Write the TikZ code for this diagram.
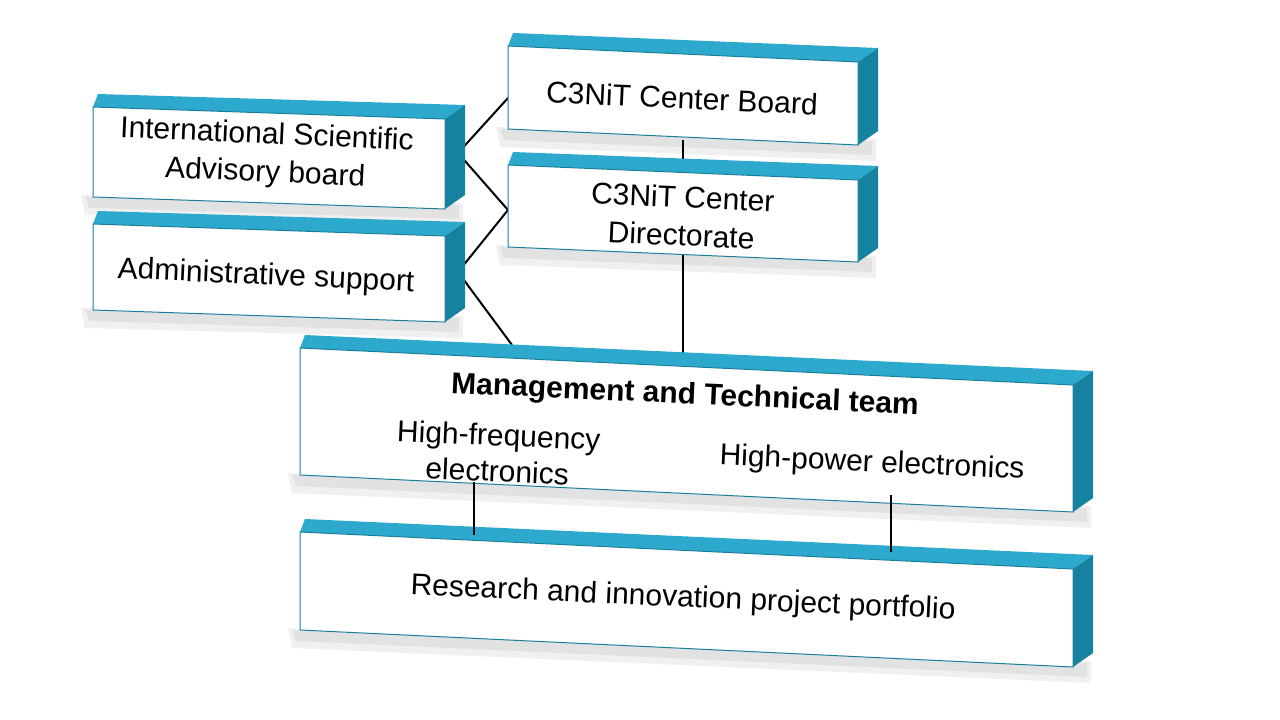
\documentclass[tikz,border=0pt]{standalone}
\usepackage{fontspec}
\setmainfont{Liberation Sans}
\definecolor{topc}{HTML}{2CA9CD}
\definecolor{sidec}{HTML}{15829F}
\definecolor{edgec}{HTML}{1A7F9A}
\tikzset{
  txt/.style={font=\fontsize{30}{36}\selectfont, align=center, rotate=-2.6, inner sep=0pt},
  conn/.style={draw=black, line width=2pt},
}
% #1 name, #2 x, #3 y, #4 w, #5 h, #6 drop
\newcommand\pbox[6]{%
  \fill[black, opacity=.06] (#2-12,#3+#5-2) -- (#2+#4+18,#3+#6+#5-6) -- (#2+#4+18,#3+#6+#5+16) -- (#2-8,#3+#5+18) -- cycle;
  \fill[black, opacity=.06] (#2-8,#3+#5) -- (#2+#4+14,#3+#6+#5-4) -- (#2+#4+14,#3+#6+#5+10) -- (#2-4,#3+#5+11) -- cycle;
  \fill[topc] (#2,#3) -- (#2+5,#3-13) -- (#2+#4+20,#3+#6-14) -- (#2+#4,#3+#6) -- cycle;
  \fill[sidec] (#2+#4,#3+#6) -- (#2+#4+20,#3+#6-14) -- (#2+#4+20,#3+#6+#5-14) -- (#2+#4,#3+#6+#5) -- cycle;
  \filldraw[fill=white, draw=edgec, line width=1pt] (#2,#3) -- (#2+#4,#3+#6) -- (#2+#4,#3+#6+#5) -- (#2,#3+#5) -- cycle;
  \coordinate (#1) at (#2+#4/2,#3+#6/2+#5/2);
}
\begin{document}
\begin{tikzpicture}[x=1pt,y=-1pt]
\useasboundingbox (0,0) rectangle (1280,720);
\coordinate (iR) at (458,153);
\coordinate (aR) at (458,272);
\coordinate (bL) at (508,98);
\coordinate (dL) at (508,210);
\coordinate (mT) at (512,345);
\draw[conn] (bL) -- (iR) -- (dL) -- (aR) -- (mT);
\coordinate (b1) at (683,140); \coordinate (d1) at (683,170);
\draw[conn] (b1) -- (d1);
\coordinate (d2) at (683,255); \coordinate (m1) at (683,355);
\draw[conn] (d2) -- (m1);
\coordinate (m2) at (474,482); \coordinate (r1) at (474,535);
\coordinate (m3) at (891,495); \coordinate (r2) at (891,552);

\pbox{board}{508}{46}{350}{83}{16}
\pbox{dir}{508}{165}{350}{82}{15}
\pbox{intl}{93}{107}{352}{90}{12}
\pbox{adm}{93}{224}{352}{86}{12}
\pbox{mgmt}{300}{348}{773}{127}{37}
\pbox{res}{300}{532}{773}{98}{37}
\draw[conn] (m2) -- (r1);
\draw[conn] (m3) -- (r2);

\node[txt] (tb) at (682,98) {C3NiT Center Board};
\node[txt, font=\fontsize{30}{38}\selectfont] (td) at (682,216) {C3NiT Center\\Directorate};
\node[txt, font=\fontsize{30}{38}\selectfont] (ti) at (266,155) {International Scientific\\Advisory board};
\node[txt] (ta) at (266,277) {Administrative support};
\node[txt, font=\bfseries\fontsize{30}{36}\selectfont] (tm) at (685,396) {Management and Technical team};
\node[txt, font=\fontsize{30}{36}\selectfont] (thf) at (498,453) {High-frequency\\electronics};
\node[txt] (thp) at (872,464) {High-power electronics};
\node[txt] (tr) at (683,599) {Research and innovation project portfolio};
\end{tikzpicture}
\end{document}
